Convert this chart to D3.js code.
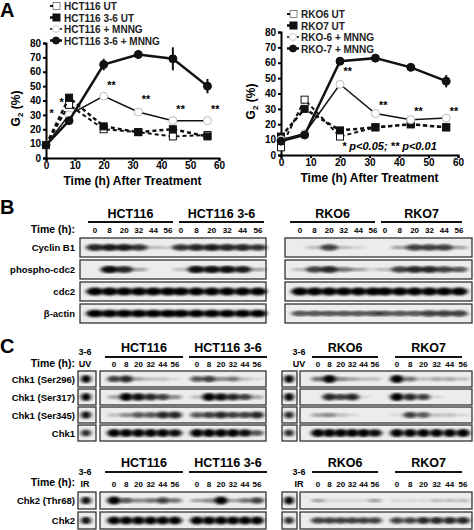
<!DOCTYPE html><html><head><meta charset="utf-8"><script src="https://cdn.jsdelivr.net/npm/d3@7"></script>
<style>body{margin:0;background:#fff}text{font-family:"Liberation Sans",Arial,sans-serif;font-weight:bold}</style></head><body><svg id="s" width="474" height="530"></svg><script>
const times=[0,8,20,32,44,56];
const yTicks=[0,10,20,30,40,50,60,70,80];
const xTicks=[0,10,20,30,40,50,60];
// Panel A left
const leftNames=["HCT116 UT","HCT116 3-6 UT","HCT116 + MNNG","HCT116 3-6 + MNNG"];
const hctUT=[9,37,20,18,15,16];
const hct36UT=[9,42,22,18,20,15];
const hctMNNG=[9,30,43,32,26,26];
const hct36MNNG=[9,26,65,72,69,50];
const hct36Err=[2,2,4,3,8,5];
// Panel A right
const rightNames=["RKO6 UT","RKO7 UT","RKO-6 + MNNG","RKO-7 + MNNG"];
const rko6UT=[5,36,12,18,20,18];
const rko7UT=[12,30,16,18,20,18];
const rko6MNNG=[10,14,46,27,23,24];
const rko7MNNG=[9,13,61,63,57,48];
const rko7Err=[2,2,2,2,2,4];
// Blot labels and band intensities (12 lanes)
const laneTimes=["0","8","20","32","44","56"];
const bRows=["Cyclin B1","phospho-cdc2","cdc2","β-actin"];
const bLeft=[[.8,.85,.85,.75,.2,.15,.75,.8,.85,.8,.8,.75],[0,.9,.8,.3,0,0,.2,.9,.9,.9,.85,.3],[1,1,1,1,1,1,1,1,1,1,1,1],[.95,.95,.95,.95,.95,.95,.95,.95,.95,.95,.95,.95]];
const bRight=[[0,.2,.7,.2,.1,0,0,.3,.7,.7,.7,.3],[.2,.7,.8,.5,.3,.1,.2,.7,.8,.8,.7,.6],[1,1,1,1,1,1,1,1,1,1,1,1],[.6,.6,.6,.6,.6,.6,.6,.6,.6,.7,.7,.7]];
const cRows=["Chk1 (Ser296)","Chk1 (Ser317)","Chk1 (Ser345)","Chk1"];
const cUVL=[1,1,.9,.8], cUVR=[1,1,.8,.8];
const cLeft=[[.7,.8,.3,.2,.2,.1,.6,.7,.4,.5,.2,.1],[.3,1,.9,.8,.7,.4,.2,1,.9,.8,.7,.3],[.2,.4,.6,.6,.8,.8,.6,.7,.8,.7,.7,.8],[1,1,1,1,1,.9,1,1,1,1,.9,.6]];
const cRight=[[.5,1,.4,.3,.2,.2,1,.5,.2,.3,.3,.2],[0,.8,.7,.8,.1,0,1,.8,.7,.1,0,0],[.3,.4,.2,.1,0,0,.1,.7,.6,.2,.2,.1],[1,1,1,1,1,.9,1,1,1,1,1,1]];
const dRows=["Chk2 (Thr68)","Chk2"];
const dUVL=[.9,.9], dUVR=[1,.8];
const dLeft=[[1,.6,.4,.5,.7,.5,.3,.4,1,.3,.5,.7],[1,1,1,1,1,1,1,1,1,1,1,1]];
const dRight=[[.3,.1,.1,.1,.1,.3,.1,.1,.1,.2,.2,.2],[.7,.7,.7,.7,.7,.7,.7,.7,.8,.8,.8,.8]];

const svg=d3.select("#s");
const defs=svg.append("defs");
defs.append("filter").attr("id","bl").attr("x","-50%").attr("width","200%").append("feGaussianBlur").attr("stdDeviation","2 0.9");

function chart(o){
 const x=d3.scaleLinear().domain([0,60]).range(o.xr), y=d3.scaleLinear().domain([0,80]).range(o.yr);
 const g=svg.append("g");
 g.append("g").attr("transform",`translate(0,${o.yr[0]})`).call(d3.axisBottom(x).tickValues(xTicks).tickSize(3).tickPadding(1)).call(a=>{a.selectAll("text").style("font-size","10px");a.selectAll("path,line").attr("stroke-width",2)});
 g.append("g").attr("transform",`translate(${o.xr[0]},0)`).call(d3.axisLeft(y).tickValues(yTicks).tickSize(3).tickPadding(2)).call(a=>{a.selectAll("text").style("font-size","10px");a.selectAll("path,line").attr("stroke-width",2)});
 g.append("text").attr("x",(o.xr[0]+o.xr[1])/2).attr("y",o.yr[0]+27).attr("text-anchor","middle").style("font-size","12px").text("Time (h) After Treatment");
 const yl=g.append("text").attr("transform",`translate(${o.xr[0]-26},${(o.yr[0]+o.yr[1])/2+8}) rotate(-90)`).attr("text-anchor","middle").style("font-size","12px");
 yl.append("tspan").text("G");yl.append("tspan").attr("dy",3).style("font-size","8px").text("2");yl.append("tspan").attr("dy",-3).text(" (%)");
 const line=d3.line().x((d,i)=>x(times[i])).y(d=>y(d));
 const st=[{d:o.s[0],dash:"4,3",w:2,m:"sq",f:"#fff"},{d:o.s[1],dash:"4,3",w:2.5,m:"sq",f:"#111"},{d:o.s[2],dash:null,w:1.5,m:"ci",f:"#fff"},{d:o.s[3],dash:null,w:2.5,m:"ci",f:"#111"}];
 o.s[3].forEach((v,i)=>{g.append("line").attr("x1",x(times[i])).attr("x2",x(times[i])).attr("y1",y(v-o.err[i])).attr("y2",y(v+o.err[i])).attr("stroke","#111").attr("stroke-width",2)});
 st.forEach(s=>{g.append("path").attr("d",line(s.d)).attr("fill","none").attr("stroke","#111").attr("stroke-width",s.w).attr("stroke-dasharray",s.dash);
  s.d.forEach((v,i)=>{ if(s.m=="sq") g.append("rect").attr("x",x(times[i])-3.5).attr("y",y(v)-3.5).attr("width",7).attr("height",7).attr("fill",s.f).attr("stroke","#111").attr("stroke-width",1);
   else g.append("circle").attr("cx",x(times[i])).attr("cy",y(v)).attr("r",4).attr("fill",s.f).attr("stroke",s.f=="#fff"?"#bbb":"#111");});});
 o.stars.forEach(v=>g.append("text").attr("x",x(times[v[0]])+3).attr("y",y(v[1])).style("font-size","11px").style("font-style","italic").text(v[2]));
 o.names.forEach((n,i)=>{const ly=o.ly+i*11.5; const sx=o.lx;
  g.append("line").attr("x1",sx-6).attr("x2",sx+6).attr("y1",ly).attr("y2",ly).attr("stroke","#111").attr("stroke-width",st[i].w).attr("stroke-dasharray",i<2?"3,3":(i==2?"4,4":null));
  if(st[i].m=="sq") g.append("rect").attr("x",sx-3).attr("y",ly-3.5).attr("width",7).attr("height",7).attr("fill",st[i].f).attr("stroke","#111").attr("stroke-width",i==0?0.5:1);
  else g.append("circle").attr("cx",sx).attr("cy",ly).attr("r",3.5).attr("fill",st[i].f).attr("stroke",st[i].f=="#fff"?"#ccc":"#111");
  g.append("text").attr("x",sx+8).attr("y",ly+4).style("font-size","10px").attr("fill","#222").text(n);});
}
chart({xr:[46,219],yr:[158,43],s:[hctUT,hct36UT,hctMNNG,hct36MNNG],err:hct36Err,names:leftNames,lx:56,ly:6,
 stars:[[2,48,"**"],[3,38,"**"],[4,31,"**"],[5,31,"**"]]});
svg.append("text").attr("x",49).attr("y",117).style("font-size","11px").style("font-style","italic").text("*");
svg.append("text").attr("x",59).attr("y",106).style("font-size","11px").style("font-style","italic").text("*");
chart({xr:[281,458],yr:[155,32],s:[rko6UT,rko7UT,rko6MNNG,rko7MNNG],err:rko7Err,names:rightNames,lx:293,ly:14,
 stars:[[2,52,"**"],[3,30,"**"],[4,26,"**"],[5,26,"**"]]});
svg.append("text").attr("x",342).attr("y",150).style("font-size","11px").style("font-style","italic").text("* p<0.05; ** p<0.01");
svg.append("text").attr("x",0).attr("y",17).style("font-size","20px").text("A");

function lanes(x0,x1){return d3.scaleLinear().domain([0,5]).range([x0,x1]);}
function blot(x0,x1,y0,h,vals,lx,rx){
 svg.append("rect").attr("x",x0).attr("y",y0).attr("width",x1-x0).attr("height",h).attr("fill","#ececec").attr("stroke","#333").attr("stroke-width",1.3);
 vals.forEach((v,i)=>{ if(v<=0.02) return; const cx=lx(i);
  svg.append("ellipse").attr("cx",cx).attr("cy",y0+h/2).attr("rx",rx||7).attr("ry",1.2+v*2.8).attr("fill","#000").attr("opacity",Math.min(1,v*1.05)).attr("filter","url(#bl)");});
}
function header(groups,y,ul,tx){
 groups.forEach(g=>{svg.append("line").attr("x1",g[1]).attr("x2",g[2]).attr("y1",ul).attr("y2",ul).attr("stroke","#111").attr("stroke-width",1.8);
  svg.append("text").attr("x",(g[1]+g[2])/2).attr("y",y).attr("text-anchor","middle").style("font-size","12.5px").text(g[0]);
  const l=lanes(g[3],g[4]); laneTimes.forEach((t,i)=>svg.append("text").attr("x",l(i)).attr("y",tx).attr("text-anchor","middle").style("font-size","8px").text(t));});
}
function labels(names,ys,x){names.forEach((n,i)=>svg.append("text").attr("x",x).attr("y",ys[i]).attr("text-anchor","end").style("font-size","9.5px").text(n));}
function laneFn(a,b){const l1=lanes(a[0],a[1]),l2=lanes(b[0],b[1]);return i=>i<6?l1(i):l2(i-6);}

// Panel B
svg.append("text").attr("x",0).attr("y",214).style("font-size","20px").text("B");
header([["HCT116",88,173,95,168],["HCT116 3-6",179,264,181,258],["RKO6",290,375,300,373],["RKO7",381,462,385,459]],218,222,233);
svg.append("text").attr("x",75).attr("y",233).attr("text-anchor","end").style("font-size","10.5px").text("Time (h):");
const bY=[238,260,282,304];
labels(bRows,bY.map(v=>v+13),75);
bRows.forEach((r,k)=>{blot(80,266,bY[k],19,bLeft[k],laneFn([95,168],[181,258]),9);blot(285,472,bY[k],19,bRight[k],laneFn([300,373],[385,459]),9);});

// Panel C
const cGroups=[["HCT116",105,183,114,175],["HCT116 3-6",189,267,197,257],["RKO6",312,378,318,375],["RKO7",395,462,397,463]];
svg.append("text").attr("x",0).attr("y",353).style("font-size","20px").text("C");
header(cGroups,352,357,367);
[85,299].forEach(x=>{svg.append("text").attr("x",x).attr("y",355).attr("text-anchor","middle").style("font-size","9px").text("3-6");svg.append("text").attr("x",x).attr("y",367).attr("text-anchor","middle").style("font-size","9px").text("UV");});
svg.append("text").attr("x",75).attr("y",367).attr("text-anchor","end").style("font-size","10.5px").text("Time (h):");
const cY=[371,389,407,425];
labels(cRows,cY.map(v=>v+12),75);
cRows.forEach((r,k)=>{blot(78,96,cY[k],16,[cUVL[k]],()=>86,5);blot(100,266,cY[k],16,cLeft[k],laneFn([114,175],[197,257]),7);
 blot(282,297,cY[k],16,[cUVR[k]],()=>289,5);blot(300,472,cY[k],16,cRight[k],laneFn([318,375],[397,463]),7);});
header(cGroups,467,472,487);
[85,299].forEach(x=>{svg.append("text").attr("x",x).attr("y",475).attr("text-anchor","middle").style("font-size","9px").text("3-6");svg.append("text").attr("x",x).attr("y",487).attr("text-anchor","middle").style("font-size","9px").text("IR");});
svg.append("text").attr("x",75).attr("y",486).attr("text-anchor","end").style("font-size","10.5px").text("Time (h):");
const dY=[492,512];
labels(dRows,dY.map(v=>v+12),75);
dRows.forEach((r,k)=>{blot(78,96,dY[k],17,[dUVL[k]],()=>86,5);blot(100,266,dY[k],17,dLeft[k],laneFn([114,175],[197,257]),7);
 blot(282,297,dY[k],17,[dUVR[k]],()=>289,5);blot(300,472,dY[k],17,dRight[k],laneFn([318,375],[397,463]),7);});
</script></body></html>
